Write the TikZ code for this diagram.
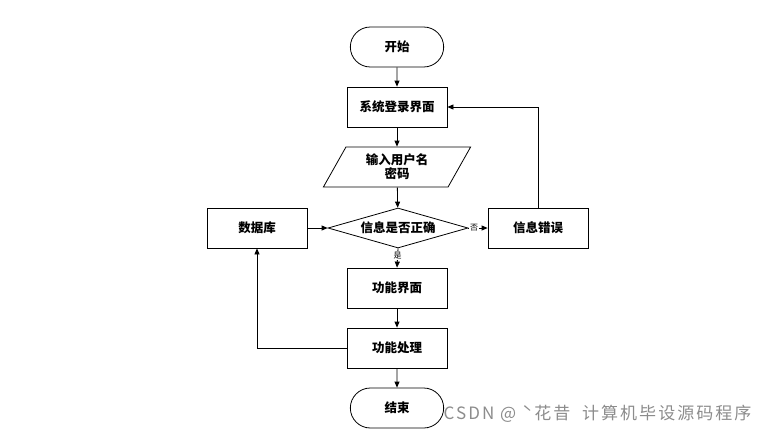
\documentclass[tikz,border=0pt]{standalone}
\usepackage{fontspec}
\newfontfamily\cjk{Noto Sans CJK SC}
\newfontfamily\wmfont{Noto Sans CJK SC}[LetterSpace=12]
\usetikzlibrary{shapes.geometric,shapes.misc,arrows.meta,positioning}
\begin{document}
\begin{tikzpicture}[x=1pt,y=-1pt,line width=.8pt,
  font=\cjk\bfseries\fontsize{12.5}{16}\selectfont,
  box/.style={draw,rectangle,minimum width=100pt,minimum height=40pt},
  term/.style={draw,rounded rectangle,minimum width=100pt,minimum height=40pt},
  iobox/.style={draw,trapezium,trapezium stretches=true,trapezium left angle=63,
    trapezium right angle=117,minimum width=148pt,minimum height=40pt,align=center,
    inner sep=1pt},
  check/.style={draw,diamond,aspect=3.5,inner sep=0pt,minimum width=140pt,minimum height=40pt},
  arr/.style={-{Triangle[length=6pt,width=5pt]}},
  lbl/.style={font=\cjk\fontsize{8}{9}\selectfont,fill=white,inner sep=1pt}]
  \useasboundingbox (0,0) rectangle (783,437);
  \node[term] (start) at (397,47) {开始};
  \node[box] (login) at (397,107) {系统登录界面};
  \node[iobox] (input) at (397,167) {输入用户名\\[-2pt]密码};
  \node[check] (verify) at (398,228) {信息是否正确};
  \node[box] (db) at (257,228) {数据库};
  \node[box] (err) at (538,228) {信息错误};
  \node[box] (func) at (397,288) {功能界面};
  \node[box] (proc) at (397,348) {功能处理};
  \node[term] (stop) at (397,408) {结束};
  \draw[arr] (start) -- (login);
  \draw[arr] (login) -- (input);
  \draw[arr] (input) -- (verify);
  \draw[arr] (db) -- (verify);
  \draw[arr] (verify) -- node[lbl,pos=.3] {否} (err);
  \draw[arr] (verify.south) -- node[lbl,pos=.35] {是} (func.north);
  \draw[arr] (func) -- (proc);
  \draw[arr] (proc) -- (stop);
  \draw[arr] (proc.west) -| (db.south);
  \draw[arr] (err.north) |- (login.east);
  \node[anchor=west,text=black!45,font=\wmfont\fontsize{17}{19}\selectfont] (mark) at (440,414) {CSDN @ ˋ花昔\ \ 计算机毕设源码程序};
\end{tikzpicture}
\end{document}
